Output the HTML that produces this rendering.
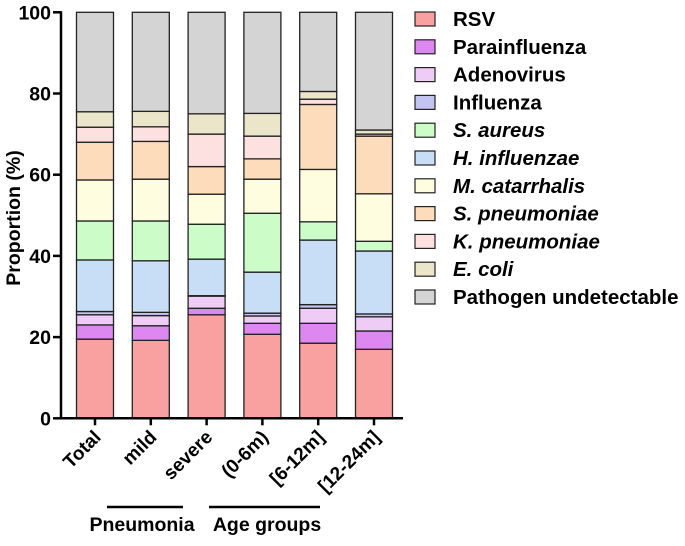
<!DOCTYPE html>
<html><head><meta charset="utf-8"><style>
body{margin:0;background:#fff;}
svg text{font-family:"Liberation Sans",Arial,sans-serif;font-weight:bold;fill:#000;}
</style></head><body>
<svg id="chart" width="685" height="541" viewBox="0 0 685 541" xmlns="http://www.w3.org/2000/svg">
<g id="bars"></g>
<g id="axes"></g>
<g id="legend"></g>
<text transform="translate(20,218) rotate(-90)" text-anchor="middle" font-size="19.5">Proportion (%)</text>
<line x1="107" y1="507" x2="183" y2="507" stroke="#000" stroke-width="2.5"/>
<line x1="209" y1="507" x2="320" y2="507" stroke="#000" stroke-width="2.5"/>
<text x="142" y="531" text-anchor="middle" font-size="19.5">Pneumonia</text>
<text x="267" y="531" text-anchor="middle" font-size="19.5">Age groups</text>
</svg>
<script>
const categories = ["Total","mild","severe","(0-6m)","[6-12m]","[12-24m]"];
const seriesNames = ["RSV","Parainfluenza","Adenovirus","Influenza","H. influenzae","S. aureus","M. catarrhalis","S. pneumoniae","K. pneumoniae","E. coli","Pathogen undetectable"];
const rsv = [19.5,19.2,25.5,20.7,18.5,17.0];
const parainfluenza = [3.5,3.6,1.6,2.7,4.9,4.5];
const adenovirus = [2.5,2.5,3.0,1.8,3.7,3.5];
const influenza = [0.8,0.8,0.1,0.7,0.9,0.7];
const hInfluenzae = [12.7,12.7,9.0,10.1,15.9,15.5];
const sAureus = [9.6,9.8,8.6,14.5,4.5,2.4];
const mCatarrhalis = [10.1,10.3,7.4,8.4,12.9,11.7];
const sPneumoniae = [9.3,9.3,6.8,5.0,16.0,14.2];
const kPneumoniae = [3.7,3.6,8.0,5.6,1.3,0.5];
const eColi = [3.8,3.8,5.0,5.6,1.9,1.0];
const undetectable = [24.5,24.4,25.0,24.9,19.5,29.0];
const yTicks = [0,20,40,60,80,100];
const legendOrder = ["RSV","Parainfluenza","Adenovirus","Influenza","S. aureus","H. influenzae","M. catarrhalis","S. pneumoniae","K. pneumoniae","E. coli","Pathogen undetectable"];

const series=[rsv,parainfluenza,adenovirus,influenza,hInfluenzae,sAureus,mCatarrhalis,sPneumoniae,kPneumoniae,eColi,undetectable];
const colors={"RSV":"#f9a0a0","Parainfluenza":"#dd88f0","Adenovirus":"#eeccf5","Influenza":"#c4c4f2","H. influenzae":"#c8def6","S. aureus":"#ccfcc8","M. catarrhalis":"#fffde0","S. pneumoniae":"#fddcbc","K. pneumoniae":"#fde0e0","E. coli":"#ebe5c9","Pathogen undetectable":"#d4d4d4"};
const NS="http://www.w3.org/2000/svg";
const y0=418.3,y1=12.3;
const yScale=v=>y0-(v/100)*(y0-y1);
const xScale=i=>95+i*55.8;
const bw=37;
function mk(t,a,p){const e=document.createElementNS(NS,t);for(const k in a)e.setAttribute(k,a[k]);p.appendChild(e);return e;}
const bars=document.getElementById('bars');
categories.forEach((c,i)=>{
  let cum=0;
  series.forEach((s,j)=>{
    const v=s[i];
    const r=mk('rect',{x:xScale(i)-bw/2,y:yScale(cum+v),width:bw,height:Math.max(0,yScale(cum)-yScale(cum+v)),fill:colors[seriesNames[j]],stroke:"#222","stroke-width":1.3},bars);
    
    
    cum+=v;
  });
});
const axes=document.getElementById('axes');
let l=mk('line',{x1:61,y1:y1-1,x2:61,y2:y0+1,stroke:"#000","stroke-width":2.5},axes);


l=mk('line',{x1:60,y1:y0,x2:403,y2:y0,stroke:"#000","stroke-width":2.5},axes);


yTicks.forEach(t=>{
  const tk=mk('line',{x1:53,y1:yScale(t),x2:61,y2:yScale(t),stroke:"#000","stroke-width":2.5},axes);
  
  
  const tx=mk('text',{x:51,y:yScale(t)+7,"text-anchor":"end","font-size":19.5},axes);
  tx.textContent=t;
  
  
});
categories.forEach((c,i)=>{
  const tk=mk('line',{x1:xScale(i),y1:y0,x2:xScale(i),y2:y0+7,stroke:"#000","stroke-width":2.5},axes);
  
  
  const tx=mk('text',{transform:`translate(${xScale(i)+7},${y0+20}) rotate(-45)`,"text-anchor":"end","font-size":19},axes);
  tx.textContent=c;
  
  
});
const leg=document.getElementById('legend');
const italic=["S. aureus","H. influenzae","M. catarrhalis","S. pneumoniae","K. pneumoniae","E. coli"];
legendOrder.forEach((n,k)=>{
  const yy=19+k*27.8;
  const r=mk('rect',{x:415,y:yy-7,width:20,height:14,fill:colors[n],stroke:"#222","stroke-width":1.2},leg);
  
  
  const t=mk('text',{x:453,y:yy+7,"font-size":20.5},leg);
  if(italic.includes(n))t.setAttribute('font-style','italic');
  t.textContent=n;
  
  
});
</script>
</body></html>
